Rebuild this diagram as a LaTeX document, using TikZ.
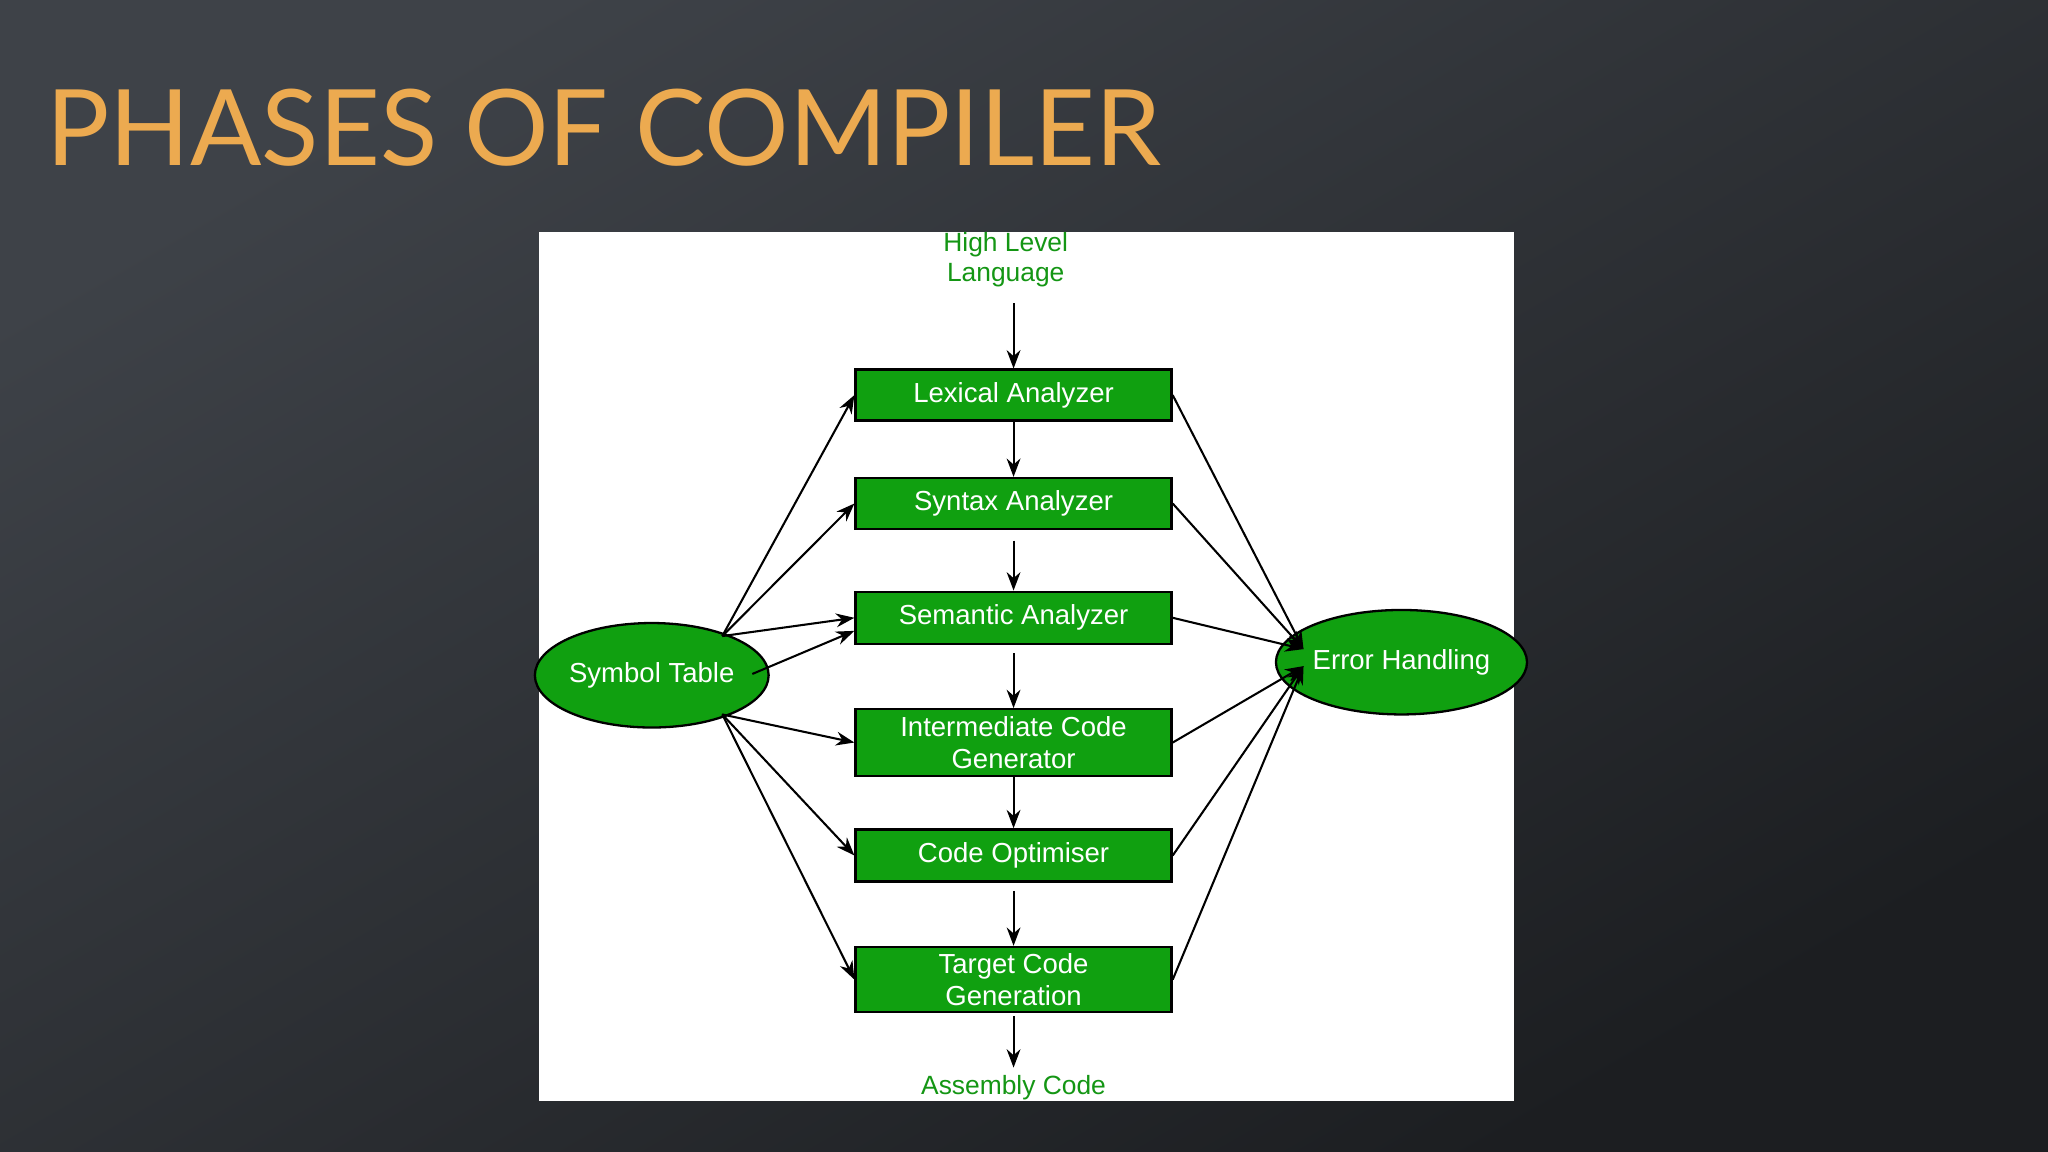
\documentclass[tikz,border=0pt]{standalone}
\usepackage{fontspec}
\setmainfont{Liberation Sans}
\newfontfamily\titlefont{Lato}
\usetikzlibrary{shapes.geometric,arrows.meta}
\definecolor{gbox}{RGB}{16,160,16}
\definecolor{gtext}{RGB}{20,150,20}
\definecolor{bgA}{RGB}{62,66,72}
\definecolor{bgB}{RGB}{28,30,33}
\definecolor{orA}{RGB}{236,170,80}
\tikzset{
  phase/.style={draw=black,line width=1pt,fill=gbox,text=white,minimum width=4.84cm,align=center,font=\fontsize{12}{14}\selectfont,inner sep=0pt},
  oval/.style={ellipse,draw=black,line width=1pt,fill=gbox,text=white,minimum width=3.02cm,minimum height=1.6cm,font=\fontsize{12}{14}\selectfont,inner sep=0pt},
  lbl/.style={text=gtext,align=center,font=\fontsize{11.5}{13}\selectfont},
  arr/.style={-{Stealth[length=8pt,width=6pt]},line width=0.9pt,black}
}
\begin{document}
\begin{tikzpicture}[x=0.02cm,y=-0.02cm]
\useasboundingbox (0,0) rectangle (1568,882);
\shade[bottom color=bgB,top color=bgA,shading angle=30] (0,0) rectangle (1568,882);
\node[anchor=west,inner sep=0pt,text=orA,font=\titlefont\fontsize{46}{50}\selectfont] (title) at (35,98) {PHASES OF COMPILER};
\fill[white] (413,178) rectangle (1159,843);
\node[phase,minimum height=0.78cm] (lex) at (776,302.5) {Lexical Analyzer};
\node[phase,minimum height=0.78cm] (syn) at (776,385.5) {Syntax Analyzer};
\node[phase,minimum height=0.8cm] (sem) at (776,473) {Semantic Analyzer};
\node[phase,minimum height=1.02cm] (icg) at (776,568.5) {Intermediate Code\\Generator};
\node[phase,minimum height=0.8cm] (opt) at (776,655) {Code Optimiser};
\node[phase,minimum height=1.0cm] (tcg) at (776,750) {Target Code\\Generation};
\node[oval] (sym) at (499,517) {Symbol Table};
\node[oval] (err) at (1073,507) {Error Handling};
\node[lbl] (hll) at (770,199) {High Level\\Language};
\node[lbl] (asm) at (776,833) {Assembly Code};
\coordinate (h1) at (776,232);
\coordinate (a1) at (776,778);
\draw[arr] (h1) -- (lex);
\draw[arr] (lex) -- (syn);
\draw[arr] (776,414) -- (sem);
\draw[arr] (776,500) -- (icg);
\draw[arr] (icg) -- (opt);
\draw[arr] (776,682) -- (tcg);
\draw[arr] (a1) -- (asm);
\coordinate (s1) at (553,487);
\coordinate (s2) at (576,516);
\coordinate (s3) at (553,547);
\draw[arr] (s1) -- (lex.west);
\draw[arr] (s1) -- (syn.west);
\draw[arr] (s1) -- (sem.west);
\draw[arr] (s2) -- ([yshift=-0.2cm]sem.west);
\draw[arr] (s3) -- (icg.west);
\draw[arr] (s3) -- (opt.west);
\draw[arr] (s3) -- (tcg.west);
\coordinate (e1) at (998,497);
\coordinate (e2) at (998,510);
\draw[arr] (lex.east) -- (e1);
\draw[arr] (syn.east) -- (e1);
\draw[arr] (sem.east) -- (e1);
\draw[arr] (icg.east) -- (e2);
\draw[arr] (opt.east) -- (e2);
\draw[arr] (tcg.east) -- (e2);
\end{tikzpicture}
\end{document}
